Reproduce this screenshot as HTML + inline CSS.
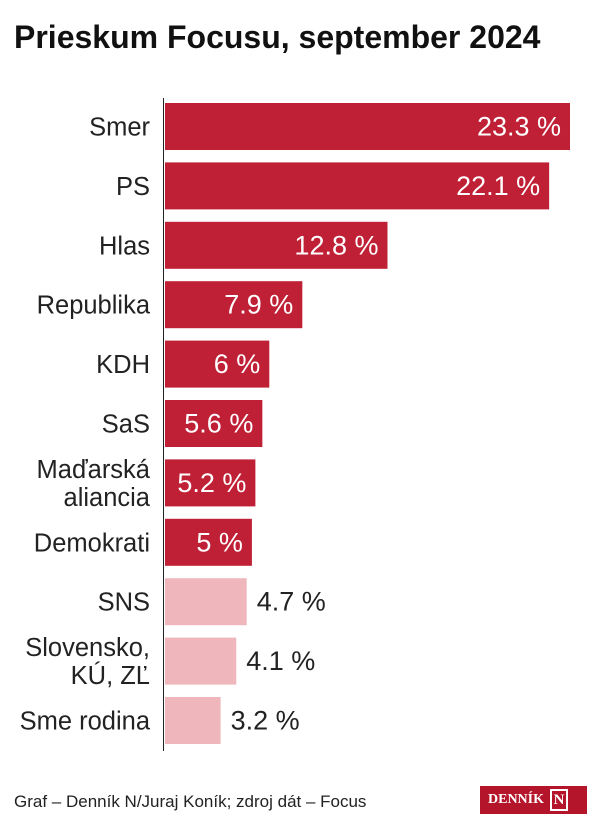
<!DOCTYPE html>
<html><head><meta charset="utf-8"><style>
body{margin:0;width:600px;height:834px;background:#fff;overflow:hidden;font-family:"Liberation Sans",sans-serif;}
#title{position:absolute;left:14px;top:19px;font-size:32px;font-weight:bold;color:#111;margin:0;white-space:nowrap;}
#foot{position:absolute;left:14px;top:792px;font-size:17px;color:#222;white-space:nowrap;}
#logo{position:absolute;left:480px;top:786px;width:107px;height:28px;background:#b5152b;color:#fff;font-family:"Liberation Serif",serif;font-weight:bold;font-size:14px;line-height:28px;padding-left:8px;box-sizing:border-box;}
#logo span{display:inline-block;border:2px solid #fff;width:14px;height:18px;line-height:18px;text-align:center;font-size:15px;margin-left:6px;vertical-align:middle;}
</style></head><body>
<h1 id="title">Prieskum Focusu, september 2024</h1>
<svg id="chart" width="600" height="834" style="position:absolute;left:0;top:0"></svg>
<div id="foot">Graf – Denník N/Juraj Koník; zdroj dát – Focus</div>
<div id="logo">DENNÍK<span>N</span></div>
<script>
const categories=["Smer","PS","Hlas","Republika","KDH","SaS","Maďarská|aliancia","Demokrati","SNS","Slovensko,|KÚ, ZĽ","Sme rodina"];
const values=[23.3,22.1,12.8,7.9,6,5.6,5.2,5,4.7,4.1,3.2];
const valueLabels=["23.3 %","22.1 %","12.8 %","7.9 %","6 %","5.6 %","5.2 %","5 %","4.7 %","4.1 %","3.2 %"];
const ns="http://www.w3.org/2000/svg";
const svg=document.getElementById('chart');
const x0=165, k=405/23.3, y0=103, step=59.4, bh=47;
const xs=v=>x0+v*k;
const ys=i=>y0+i*step;
function mk(t,a){const e=document.createElementNS(ns,t);for(const n in a)e.setAttribute(n,a[n]);svg.appendChild(e);return e;}
values.forEach((v,i)=>{
  const strong=v>=5;
  const r=mk('rect',{x:x0,y:ys(i),width:xs(v)-x0,height:bh,fill:strong?'#c02036':'#efb7bc'});
  
  
  const cy=ys(i)+bh/2+9;
  const t=mk('text',{y:cy,'font-size':27,'font-family':'"Liberation Sans",sans-serif'});
  if(strong){t.setAttribute('x',xs(v)-9);t.setAttribute('text-anchor','end');t.setAttribute('fill','#fff');}
  else{t.setAttribute('x',xs(v)+10);t.setAttribute('fill','#222');}
  t.textContent=valueLabels[i];
  
  
  const parts=categories[i].split('|');
  parts.forEach((p,j)=>{
    const c=mk('text',{x:150,y:cy+(j-(parts.length-1)/2)*28,'text-anchor':'end','font-size':25.5,fill:'#222','font-family':'"Liberation Sans",sans-serif'});
    c.textContent=p;
    
    
  });
});
const ax=mk('line',{x1:163.5,x2:163.5,y1:98,y2:751,stroke:'#222','stroke-width':1});


</script>
</body></html>
